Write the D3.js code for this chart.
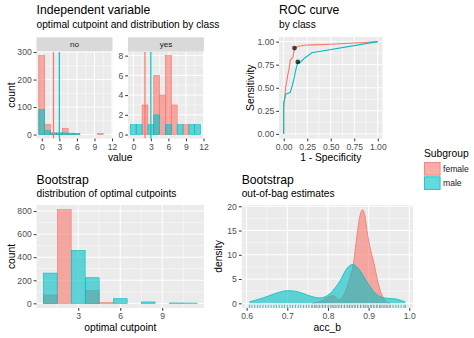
<!DOCTYPE html>
<html>
<head>
<meta charset="utf-8">
<script src="https://cdn.jsdelivr.net/npm/d3@7"></script>
<style>
  body { margin: 0; background: #fff; }
  text { font-family: "Liberation Sans", Arial, Helvetica, sans-serif; }
</style>
</head>
<body>
<svg id="chart" width="474" height="338"></svg>
<script>
// ---- data ----
const subgroups = ["female", "male"];
const subgroupColors = ["#F8766D", "#00BFC4"];

// independent variable: histogram per class, value bins of width 1
const classes = ["no", "yes"];
const valueBins = [0, 1, 2, 3, 4, 5, 6, 7, 8, 9, 10, 11];
const noFemaleCounts = [287, 37, 6, 4, 23, 3, 2, 0, 0, 0, 4, 0];
const noMaleCounts = [91, 14, 5, 6, 6, 5, 4, 0, 0, 0, 0, 0];
const yesFemaleCounts = [0, 0, 3, 0, 6, 4, 8, 3, 0, 1, 0, 0];
const yesMaleCounts = [1, 1, 0, 1, 2, 0, 1, 0, 1, 0, 1, 1];
const optimalCutpoints = [2, 3]; // female, male
const valueTicks = [0, 3, 6, 9, 12];

// ROC curves by subgroup
const rocFemaleFpr = [0, 0, 0.01, 0.02, 0.04, 0.06, 0.07, 0.09, 0.1, 0.115, 0.16, 0.22, 0.3, 0.5, 0.75, 1];
const rocFemaleTpr = [0, 0.3, 0.38, 0.5, 0.62, 0.72, 0.8, 0.82, 0.84, 0.93, 0.95, 0.96, 0.965, 0.972, 0.985, 1];
const rocMaleFpr = [0, 0, 0.01, 0.02, 0.05, 0.07, 0.09, 0.11, 0.13, 0.15, 0.17, 0.19, 0.22, 0.3, 1];
const rocMaleTpr = [0, 0.33, 0.38, 0.43, 0.44, 0.45, 0.52, 0.6, 0.7, 0.78, 0.77, 0.79, 0.82, 0.88, 1];
const rocOptimalFpr = [0.115, 0.15];
const rocOptimalTpr = [0.93, 0.78];
const rocTicks = [0, 0.25, 0.5, 0.75, 1];

// bootstrap: distribution of optimal cutpoints
const bootBins = [1, 2, 3, 4, 5, 6, 7, 8, 9, 10, 11];
const bootFemaleCounts = [72, 812, 0, 110, 6, 0, 0, 0, 0, 0, 0];
const bootMaleCounts = [262, 0, 459, 222, 0, 40, 0, 12, 0, 3, 2];
const bootXTicks = [3, 6, 9];
const bootYTicks = [0, 200, 400, 600, 800];

// bootstrap: out-of-bag accuracy densities
const densFemaleX = [0.762, 0.78, 0.795, 0.805, 0.813, 0.82, 0.826, 0.835, 0.845, 0.855, 0.8626, 0.872, 0.878, 0.885, 0.891, 0.897, 0.905, 0.9135, 0.924, 0.935, 0.943, 0.952];
const densFemaleY = [0.05, 0.35, 1.0, 1.4, 1.6, 1.2, 0.7, 1.2, 2.9, 5.6, 8.2, 14.5, 17.8, 19.3, 18.0, 14.5, 11.0, 8.2, 4.0, 1.3, 0.3, 0.05];
const densMaleX = [0.607, 0.62, 0.64, 0.66, 0.68, 0.7, 0.72, 0.74, 0.76, 0.78, 0.805, 0.83, 0.8465, 0.861, 0.87, 0.88, 0.89, 0.9, 0.91, 0.92, 0.93, 0.94, 0.95, 0.96, 0.97, 0.98, 0.99];
const densMaleY = [0.3, 0.6, 1.1, 1.7, 2.3, 2.6, 2.5, 2.0, 1.4, 1.1, 2.0, 4.7, 7.2, 8.0, 7.6, 6.6, 5.2, 3.9, 2.7, 1.8, 1.3, 1.1, 1.0, 0.95, 0.85, 0.6, 0.3];
const rugFemale = [0.762, 0.770, 0.778, 0.786, 0.794, 0.802, 0.810, 0.817, 0.825, 0.833, 0.841, 0.849, 0.857, 0.865, 0.873, 0.881, 0.889, 0.897, 0.905, 0.913, 0.921, 0.929, 0.937, 0.944, 0.952];
const rugMale = [0.607, 0.613, 0.620, 0.627, 0.633, 0.640, 0.647, 0.653, 0.660, 0.667, 0.673, 0.680, 0.687, 0.693, 0.700, 0.707, 0.713, 0.720, 0.727, 0.733, 0.740, 0.747, 0.753, 0.760, 0.767, 0.773, 0.780, 0.787, 0.793, 0.800, 0.807, 0.813, 0.820, 0.827, 0.833, 0.840, 0.847, 0.853, 0.860, 0.867, 0.873, 0.880, 0.887, 0.893, 0.900, 0.907, 0.913, 0.920, 0.927, 0.933, 0.940, 0.947, 0.953, 0.960, 0.967, 0.973, 0.980, 0.987, 0.990];
const densXTicks = [0.6, 0.7, 0.8, 0.9, 1.0];
const densYTicks = [0, 5, 10, 15, 20];

// ---- drawing ----
const FONT = '"Liberation Sans", Arial, Helvetica, sans-serif';
const ALPHA = 0.6;
const TICK_FONT = "8.6px";
const svg = d3.select("#chart");
svg.append("rect").attr("width", 474).attr("height", 338).attr("fill", "#fff");

const defs = svg.append("defs");
let clipId = 0;

// expand a [min, max] range by 5% on each side, like ggplot does
function expand(lo, hi) {
  const pad = (hi - lo) * 0.05;
  return [lo - pad, hi + pad];
}

function titles(x, y, title, subtitle) {
  svg.append("text").attr("x", x).attr("y", y).text(title)
    .style("font-size", "12.2px").attr("fill", "#000");
  svg.append("text").attr("x", x).attr("y", y + 13.5).text(subtitle)
    .style("font-size", "10.2px").attr("fill", "#000");
}

// grey panel with white major/minor grid, returns a clipped group for marks
function panel(box, xs, ys, xMajor, xMinor, yMajor, yMinor) {
  const g = svg.append("g");
  g.append("rect").attr("x", box.x).attr("y", box.y)
    .attr("width", box.w).attr("height", box.h).attr("fill", "#EBEBEB");
  const vlines = (vals, w) => g.selectAll(null).data(vals).join("line")
    .attr("x1", d => xs(d)).attr("x2", d => xs(d))
    .attr("y1", box.y).attr("y2", box.y + box.h)
    .attr("stroke", "#fff").attr("stroke-width", w);
  const hlines = (vals, w) => g.selectAll(null).data(vals).join("line")
    .attr("y1", d => ys(d)).attr("y2", d => ys(d))
    .attr("x1", box.x).attr("x2", box.x + box.w)
    .attr("stroke", "#fff").attr("stroke-width", w);
  vlines(xMinor, 0.5); hlines(yMinor, 0.5);
  vlines(xMajor, 1); hlines(yMajor, 1);

  const id = "clip" + (clipId++);
  defs.append("clipPath").attr("id", id).append("rect")
    .attr("x", box.x).attr("y", box.y).attr("width", box.w).attr("height", box.h);
  return svg.append("g").attr("clip-path", `url(#${id})`);
}

function styleAxis(ax) {
  ax.select(".domain").remove();
  ax.selectAll(".tick line").attr("stroke", "#333333").attr("stroke-width", 1);
  ax.selectAll(".tick text").attr("fill", "#4D4D4D")
    .style("font-size", TICK_FONT).style("font-family", FONT);
}

function axisBottom(box, xs, ticks, fmt) {
  svg.append("g").attr("transform", `translate(0,${box.y + box.h})`)
    .call(d3.axisBottom(xs).tickValues(ticks).tickSize(2.8).tickPadding(2.3).tickFormat(fmt || d3.format("")))
    .call(styleAxis);
}

function axisLeft(box, ys, ticks, fmt) {
  svg.append("g").attr("transform", `translate(${box.x},0)`)
    .call(d3.axisLeft(ys).tickValues(ticks).tickSize(2.8).tickPadding(2).tickFormat(fmt || d3.format("")))
    .call(styleAxis);
}

function xTitle(x, y, label) {
  svg.append("text").attr("x", x).attr("y", y).attr("text-anchor", "middle")
    .style("font-size", "10.3px").text(label);
}

function yTitle(x, y, label) {
  svg.append("text").attr("transform", `translate(${x},${y}) rotate(-90)`)
    .attr("text-anchor", "middle").style("font-size", "10.3px").text(label);
}

function bars(g, xs, ys, bins, counts, color, width) {
  const data = bins.map((b, i) => ({ b, n: counts[i] })).filter(d => d.n > 0);
  g.selectAll(null).data(data).join("rect")
    .attr("x", d => xs(d.b - width / 2))
    .attr("width", d => xs(d.b + width / 2) - xs(d.b - width / 2))
    .attr("y", d => ys(d.n))
    .attr("height", d => ys(0) - ys(d.n))
    .attr("fill", color).attr("fill-opacity", ALPHA)
    .attr("stroke", color).attr("stroke-width", 0.6);
}

// ---- independent variable, faceted by class ----
titles(36.5, 14, "Independent variable", "optimal cutpoint and distribution by class");

const facetW = 76, facetTop = 51.7, facetH = 86.8, stripH = 14.4;
const facetData = [
  { name: classes[0], x: 36.5, female: noFemaleCounts, male: noMaleCounts, yTicks: [0, 100, 200, 300], yMinor: [50, 150, 250] },
  { name: classes[1], x: 128, female: yesFemaleCounts, male: yesMaleCounts, yTicks: [0, 2, 4, 6, 8], yMinor: [1, 3, 5, 7] }
];

facetData.forEach(f => {
  const box = { x: f.x, y: facetTop, w: facetW, h: facetH };
  const xs = d3.scaleLinear().domain([-0.9, 12.08]).range([box.x, box.x + box.w]);
  const ymax = d3.max(f.female.concat(f.male));
  const ys = d3.scaleLinear().domain(expand(0, ymax)).range([box.y + box.h, box.y]);

  // strip
  svg.append("rect").attr("x", box.x).attr("y", facetTop - stripH)
    .attr("width", box.w).attr("height", stripH).attr("fill", "#D9D9D9");
  svg.append("text").attr("x", box.x + box.w / 2).attr("y", facetTop - stripH / 2 + 2.9)
    .attr("text-anchor", "middle").style("font-size", "8.1px").attr("fill", "#1A1A1A").text(f.name);

  const g = panel(box, xs, ys, valueTicks, [1.5, 4.5, 7.5, 10.5], f.yTicks, f.yMinor);
  bars(g, xs, ys, valueBins, f.female, subgroupColors[0], 1);
  bars(g, xs, ys, valueBins, f.male, subgroupColors[1], 1);
  g.selectAll(null).data(optimalCutpoints).join("line")
    .attr("x1", d => xs(d)).attr("x2", d => xs(d))
    .attr("y1", box.y).attr("y2", box.y + box.h)
    .attr("stroke", (d, i) => subgroupColors[i]).attr("stroke-width", 1.2);

  axisBottom(box, xs, valueTicks);
  axisLeft(box, ys, f.yTicks);
});
xTitle((36.5 + 128 + facetW) / 2, 160.5, "value");
yTitle(15, facetTop + facetH / 2, "count");

// ---- ROC curve ----
titles(279, 14, "ROC curve", "by class");
{
  const box = { x: 279, y: 37, w: 103.5, h: 101.5 };
  const xs = d3.scaleLinear().domain(expand(0, 1)).range([box.x, box.x + box.w]);
  const ys = d3.scaleLinear().domain(expand(0, 1)).range([box.y + box.h, box.y]);
  const g = panel(box, xs, ys, rocTicks, [0.125, 0.375, 0.625, 0.875], rocTicks, [0.125, 0.375, 0.625, 0.875]);
  const line = d3.line().x(d => xs(d[0])).y(d => ys(d[1]));
  const curves = [d3.zip(rocFemaleFpr, rocFemaleTpr), d3.zip(rocMaleFpr, rocMaleTpr)];
  g.selectAll(null).data(curves).join("path")
    .attr("d", line).attr("fill", "none")
    .attr("stroke", (d, i) => subgroupColors[i]).attr("stroke-width", 1.1);
  g.selectAll(null).data(d3.zip(rocOptimalFpr, rocOptimalTpr)).join("circle")
    .attr("cx", d => xs(d[0])).attr("cy", d => ys(d[1])).attr("r", 2.4)
    .attr("fill", "#000").attr("fill-opacity", 0.7);
  axisBottom(box, xs, rocTicks, d3.format(".2f"));
  axisLeft(box, ys, rocTicks, d3.format(".2f"));
  xTitle(box.x + box.w / 2, 160.5, "1 - Specificity");
  yTitle(253.7, box.y + box.h / 2, "Sensitivity");
}

// ---- bootstrap: optimal cutpoints ----
titles(36.5, 183.7, "Bootstrap", "distribution of optimal cutpoints");
{
  const box = { x: 36.5, y: 205, w: 167.5, h: 103 };
  const xs = d3.scaleLinear().domain([0.02, 11.98]).range([box.x, box.x + box.w]);
  const ymax = d3.max(bootFemaleCounts.concat(bootMaleCounts));
  const ys = d3.scaleLinear().domain(expand(0, ymax)).range([box.y + box.h, box.y]);
  const g = panel(box, xs, ys, bootXTicks, [1.5, 4.5, 7.5, 10.5], bootYTicks, [100, 300, 500, 700]);
  bars(g, xs, ys, bootBins, bootFemaleCounts, subgroupColors[0], 0.99);
  bars(g, xs, ys, bootBins, bootMaleCounts, subgroupColors[1], 0.99);
  axisBottom(box, xs, bootXTicks);
  axisLeft(box, ys, bootYTicks);
  xTitle(box.x + box.w / 2, 331, "optimal cutpoint");
  yTitle(15, box.y + box.h / 2, "count");
}

// ---- bootstrap: out-of-bag accuracy ----
titles(241.7, 183.7, "Bootstrap", "out-of-bag estimates");
{
  const box = { x: 241.7, y: 205, w: 171.3, h: 103 };
  const allRug = rugFemale.concat(rugMale);
  const xs = d3.scaleLinear().domain(expand(d3.min(allRug), d3.max(allRug))).range([box.x, box.x + box.w]);
  const ys = d3.scaleLinear().domain(expand(0, d3.max(densFemaleY.concat(densMaleY)))).range([box.y + box.h, box.y]);
  const g = panel(box, xs, ys, densXTicks, [0.65, 0.75, 0.85, 0.95], densYTicks, [2.5, 7.5, 12.5, 17.5]);

  const series = [d3.zip(densFemaleX, densFemaleY), d3.zip(densMaleX, densMaleY)];
  const area = d3.area().x(d => xs(d[0])).y0(ys(0)).y1(d => ys(d[1])).curve(d3.curveMonotoneX);
  const top = d3.line().x(d => xs(d[0])).y(d => ys(d[1])).curve(d3.curveMonotoneX);
  series.forEach((s, i) => {
    g.append("path").attr("d", area(s)).attr("fill", subgroupColors[i]).attr("fill-opacity", ALPHA);
    g.append("path").attr("d", top(s)).attr("fill", "none")
      .attr("stroke", subgroupColors[i]).attr("stroke-width", 0.8);
  });

  // rug along the bottom edge
  [rugFemale, rugMale].forEach((r, i) => {
    g.selectAll(null).data(r).join("line")
      .attr("x1", d => xs(d)).attr("x2", d => xs(d))
      .attr("y1", box.y + box.h).attr("y2", box.y + box.h - 3.2)
      .attr("stroke", subgroupColors[i]).attr("stroke-width", 0.8);
  });

  axisBottom(box, xs, densXTicks, d3.format(".1f"));
  axisLeft(box, ys, densYTicks);
  xTitle(box.x + box.w / 2, 331, "acc_b");
  yTitle(222, box.y + box.h / 2, "density");
}

// ---- legend ----
{
  const lx = 424, ly = 162, kw = 16.5, kh = 13.6;
  svg.append("text").attr("x", lx).attr("y", 156.5).style("font-size", "10.3px").text("Subgroup");
  const items = svg.selectAll(null).data(subgroups).join("g")
    .attr("transform", (d, i) => `translate(${lx},${ly + i * (kh + 0.8)})`);
  items.append("rect").attr("x", 0.4).attr("y", 0.4).attr("width", kw - 0.8).attr("height", kh - 0.8)
    .attr("fill", (d, i) => subgroupColors[i]).attr("fill-opacity", ALPHA)
    .attr("stroke", (d, i) => subgroupColors[i]).attr("stroke-width", 0.8);
  items.append("text").attr("x", kw + 2.5).attr("y", kh / 2 + 3)
    .style("font-size", "8.6px").attr("fill", "#1A1A1A").text(d => d);
}
</script>
</body>
</html>
